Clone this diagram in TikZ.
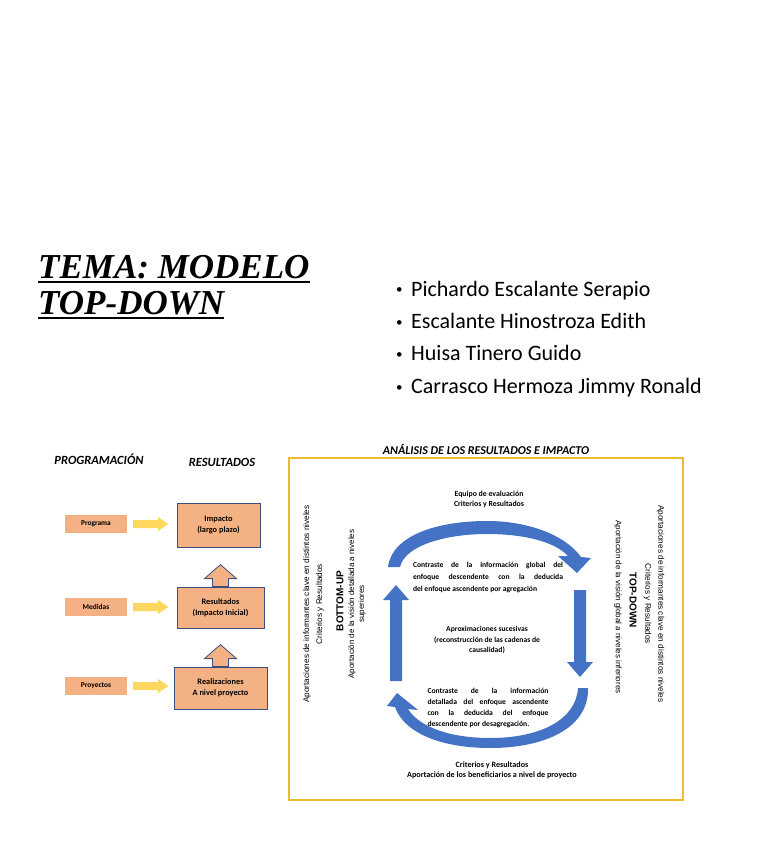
\documentclass[tikz,border=0pt]{standalone}
\usepackage{fontspec}
\setmainfont{Carlito}
\newfontfamily\titlefont{Liberation Serif}
\newfontfamily\arialf{Liberation Sans}
\usetikzlibrary{calc}
\definecolor{salmon}{HTML}{F4B183}
\definecolor{boxline}{HTML}{3C4E80}
\definecolor{yarrow}{HTML}{FFD75E}
\definecolor{frameyel}{HTML}{EDBB30}
\definecolor{cycblue}{HTML}{4472C4}
\newcommand{\fsz}[2]{\fontsize{#1}{#2}\selectfont}
\begin{document}
\begin{tikzpicture}[x=1pt,y=-1pt,
  txt/.style={inner sep=0},
  smallbox/.style={fill=salmon, minimum width=62, minimum height=18, inner sep=0, font=\bfseries\fsz{7.4}{9}},
  bigbox/.style={fill=salmon, draw=boxline, line width=0.8, inner sep=0, align=center, font=\bfseries\fsz{8.3}{11}},
  uparr/.style={fill=salmon, draw=boxline, line width=0.8},
  yarr/.style={fill=yarrow},
  cyc/.style={fill=cycblue},
  rottxt/.style={inner sep=0, align=center, font=\arialf\fsz{8.2}{13}},
  head/.style={inner sep=0, font=\bfseries\itshape\fsz{12.5}{15}}]
\useasboundingbox (0,0) rectangle (768,866);

% Title
\node[txt, anchor=base west, font=\titlefont\bfseries\itshape\fsz{35}{40}] (t1) at (38,278) {TEMA: MODELO};
\node[txt, anchor=base west, font=\titlefont\bfseries\itshape\fsz{35}{40}] (t2) at (38,314) {TOP-DOWN};
\draw[line width=2] ($(t1.base west)+(0,4)$) -- ($(t1.base east)+(0,4)$);
\draw[line width=2] ($(t2.base west)+(0,4)$) -- ($(t2.base east)+(0,4)$);

% Names
\node[txt, anchor=base west, font=\fsz{22}{26}] (n1) at (396,296) {\makebox[15pt][l]{\raisebox{2pt}{\fsz{13}{13}\textbullet}}Pichardo Escalante Serapio};
\node[txt, anchor=base west, font=\fsz{22}{26}] (n2) at (396,328) {\makebox[15pt][l]{\raisebox{2pt}{\fsz{13}{13}\textbullet}}Escalante Hinostroza Edith};
\node[txt, anchor=base west, font=\fsz{22}{26}] (n3) at (396,360) {\makebox[15pt][l]{\raisebox{2pt}{\fsz{13}{13}\textbullet}}Huisa Tinero Guido};
\node[txt, anchor=base west, font=\fsz{22}{26}] (n4) at (396,393) {\makebox[15pt][l]{\raisebox{2pt}{\fsz{13}{13}\textbullet}}Carrasco Hermoza Jimmy Ronald};

% Left diagram
\node[head] (hprog) at (99,459) {PROGRAMACIÓN};
\node[head] (hres) at (222,462) {RESULTADOS};

\node[smallbox] (prog) at (96,524) {Programa};
\node[smallbox] (med) at (96,607) {Medidas};
\node[smallbox] (proy) at (96,686) {Proyectos};

\node[bigbox, minimum width=83, minimum height=44] (imp) at (218.5,525) {Impacto\\(largo plazo)};
\node[bigbox, minimum width=87, minimum height=41] (res) at (220.5,607.5) {Resultados\\(Impacto Inicial)};
\node[bigbox, minimum width=93, minimum height=42] (real) at (220.5,688) {Realizaciones\\A nivel proyecto};

\foreach \b in {prog,med,proy}{
  \fill[yarr] ($(\b.east)+(6,-4)$) -- ($(\b.east)+(31,-4)$) -- ($(\b.east)+(31,-7)$) -- ($(\b.east)+(41,0)$)
    -- ($(\b.east)+(31,7)$) -- ($(\b.east)+(31,4)$) -- ($(\b.east)+(6,4)$) -- cycle;
}
\foreach \b in {res,real}{
  \filldraw[uparr] ($(\b.north)+(-8,0)$) -- ($(\b.north)+(-8,-8)$) -- ($(\b.north)+(-16,-8)$) -- ($(\b.north)+(0,-22)$)
    -- ($(\b.north)+(16,-8)$) -- ($(\b.north)+(8,-8)$) -- ($(\b.north)+(8,0)$) -- cycle;
}

% Right diagram
\node[head, font=\bfseries\itshape\fsz{12}{14}] (hanal) at (486,450) {ANÁLISIS DE LOS RESULTADOS E IMPACTO};
\node[draw=frameyel, line width=2, minimum width=394, minimum height=342, inner sep=0] (frame) at (486,629) {};

\node[txt, align=center, font=\bfseries\fsz{7.8}{10}] (equipo) at (489,499) {Equipo de evaluación\\Criterios y Resultados};
\node[txt, text width=150, align=justify, font=\bfseries\fsz{7.6}{12}] (c1) at (488,577) {Contraste de la información global del\linebreak enfoque descendente con la deducida\linebreak del enfoque ascendente por agregación};
\node[txt, align=center, font=\bfseries\fsz{7.6}{10.5}] (aprox) at (487,640) {Aproximaciones sucesivas\\(reconstrucción de las cadenas de\\causalidad)};
\node[txt, text width=121, align=justify, font=\bfseries\fsz{7.6}{11}] (c2) at (488,708) {Contraste de la información\linebreak detallada del enfoque ascendente\linebreak con la deducida del enfoque\linebreak descendente por desagregación.};
\node[txt, align=center, font=\bfseries\fsz{8.1}{10}] (bot) at (492,770) {Criterios y Resultados\\Aportación de los beneficiarios a nivel de proyecto};

\node[rottxt, rotate=90] (l1) at (313.5,604) {Aportaciones de informantes clave en distintos niveles\\Criterios y Resultados};
\node[rottxt, rotate=90, font=\arialf\bfseries\fsz{10}{12}] (bu) at (340,601) {BOTTOM-UP};
\node[rottxt, rotate=90, font=\arialf\fsz{8}{10}] (l2) at (357,604) {Aportación de la visión detallada a niveles\\superiores};
\node[rottxt, rotate=-90] (r1) at (654,604) {Aportaciones de informantes clave en distintos niveles\\Criterios y Resultados};
\node[rottxt, rotate=-90, font=\arialf\bfseries\fsz{10}{12}] (td) at (633,600) {TOP-DOWN};
\node[rottxt, rotate=-90, font=\arialf\fsz{8}{10}] (r2) at (618,607) {Aportación de la visión global a niveles inferiores};

% Cycle arrows
\fill[cyc] (388,567) .. controls (392,535) and (438,521) .. (487,521) .. controls (530,521) and (566,536) .. (581,557)
  -- (591,558) -- (577,573) -- (558,556) -- (568,556)
  .. controls (555,542) and (525,534) .. (487,534) .. controls (447,534) and (405,545) .. (400,567) -- cycle;
\fill[cyc] (578,688) -- (588,688) .. controls (589,728) and (545,748) .. (490,748) .. controls (445,748) and (405,735) .. (395,707)
  -- (387,706) -- (397,693) -- (418,710) -- (408,709)
  .. controls (420,728) and (452,738) .. (490,738) .. controls (540,738) and (576,720) .. (578,688) -- cycle;
\fill[cyc] (390,681) -- (390,600) -- (383,600) -- (396,585) -- (409,600) -- (402,600) -- (402,681) -- cycle;
\fill[cyc] (574,590) -- (574,662) -- (567,662) -- (580,677) -- (593,662) -- (586,662) -- (586,590) -- cycle;
\end{tikzpicture}
\end{document}
